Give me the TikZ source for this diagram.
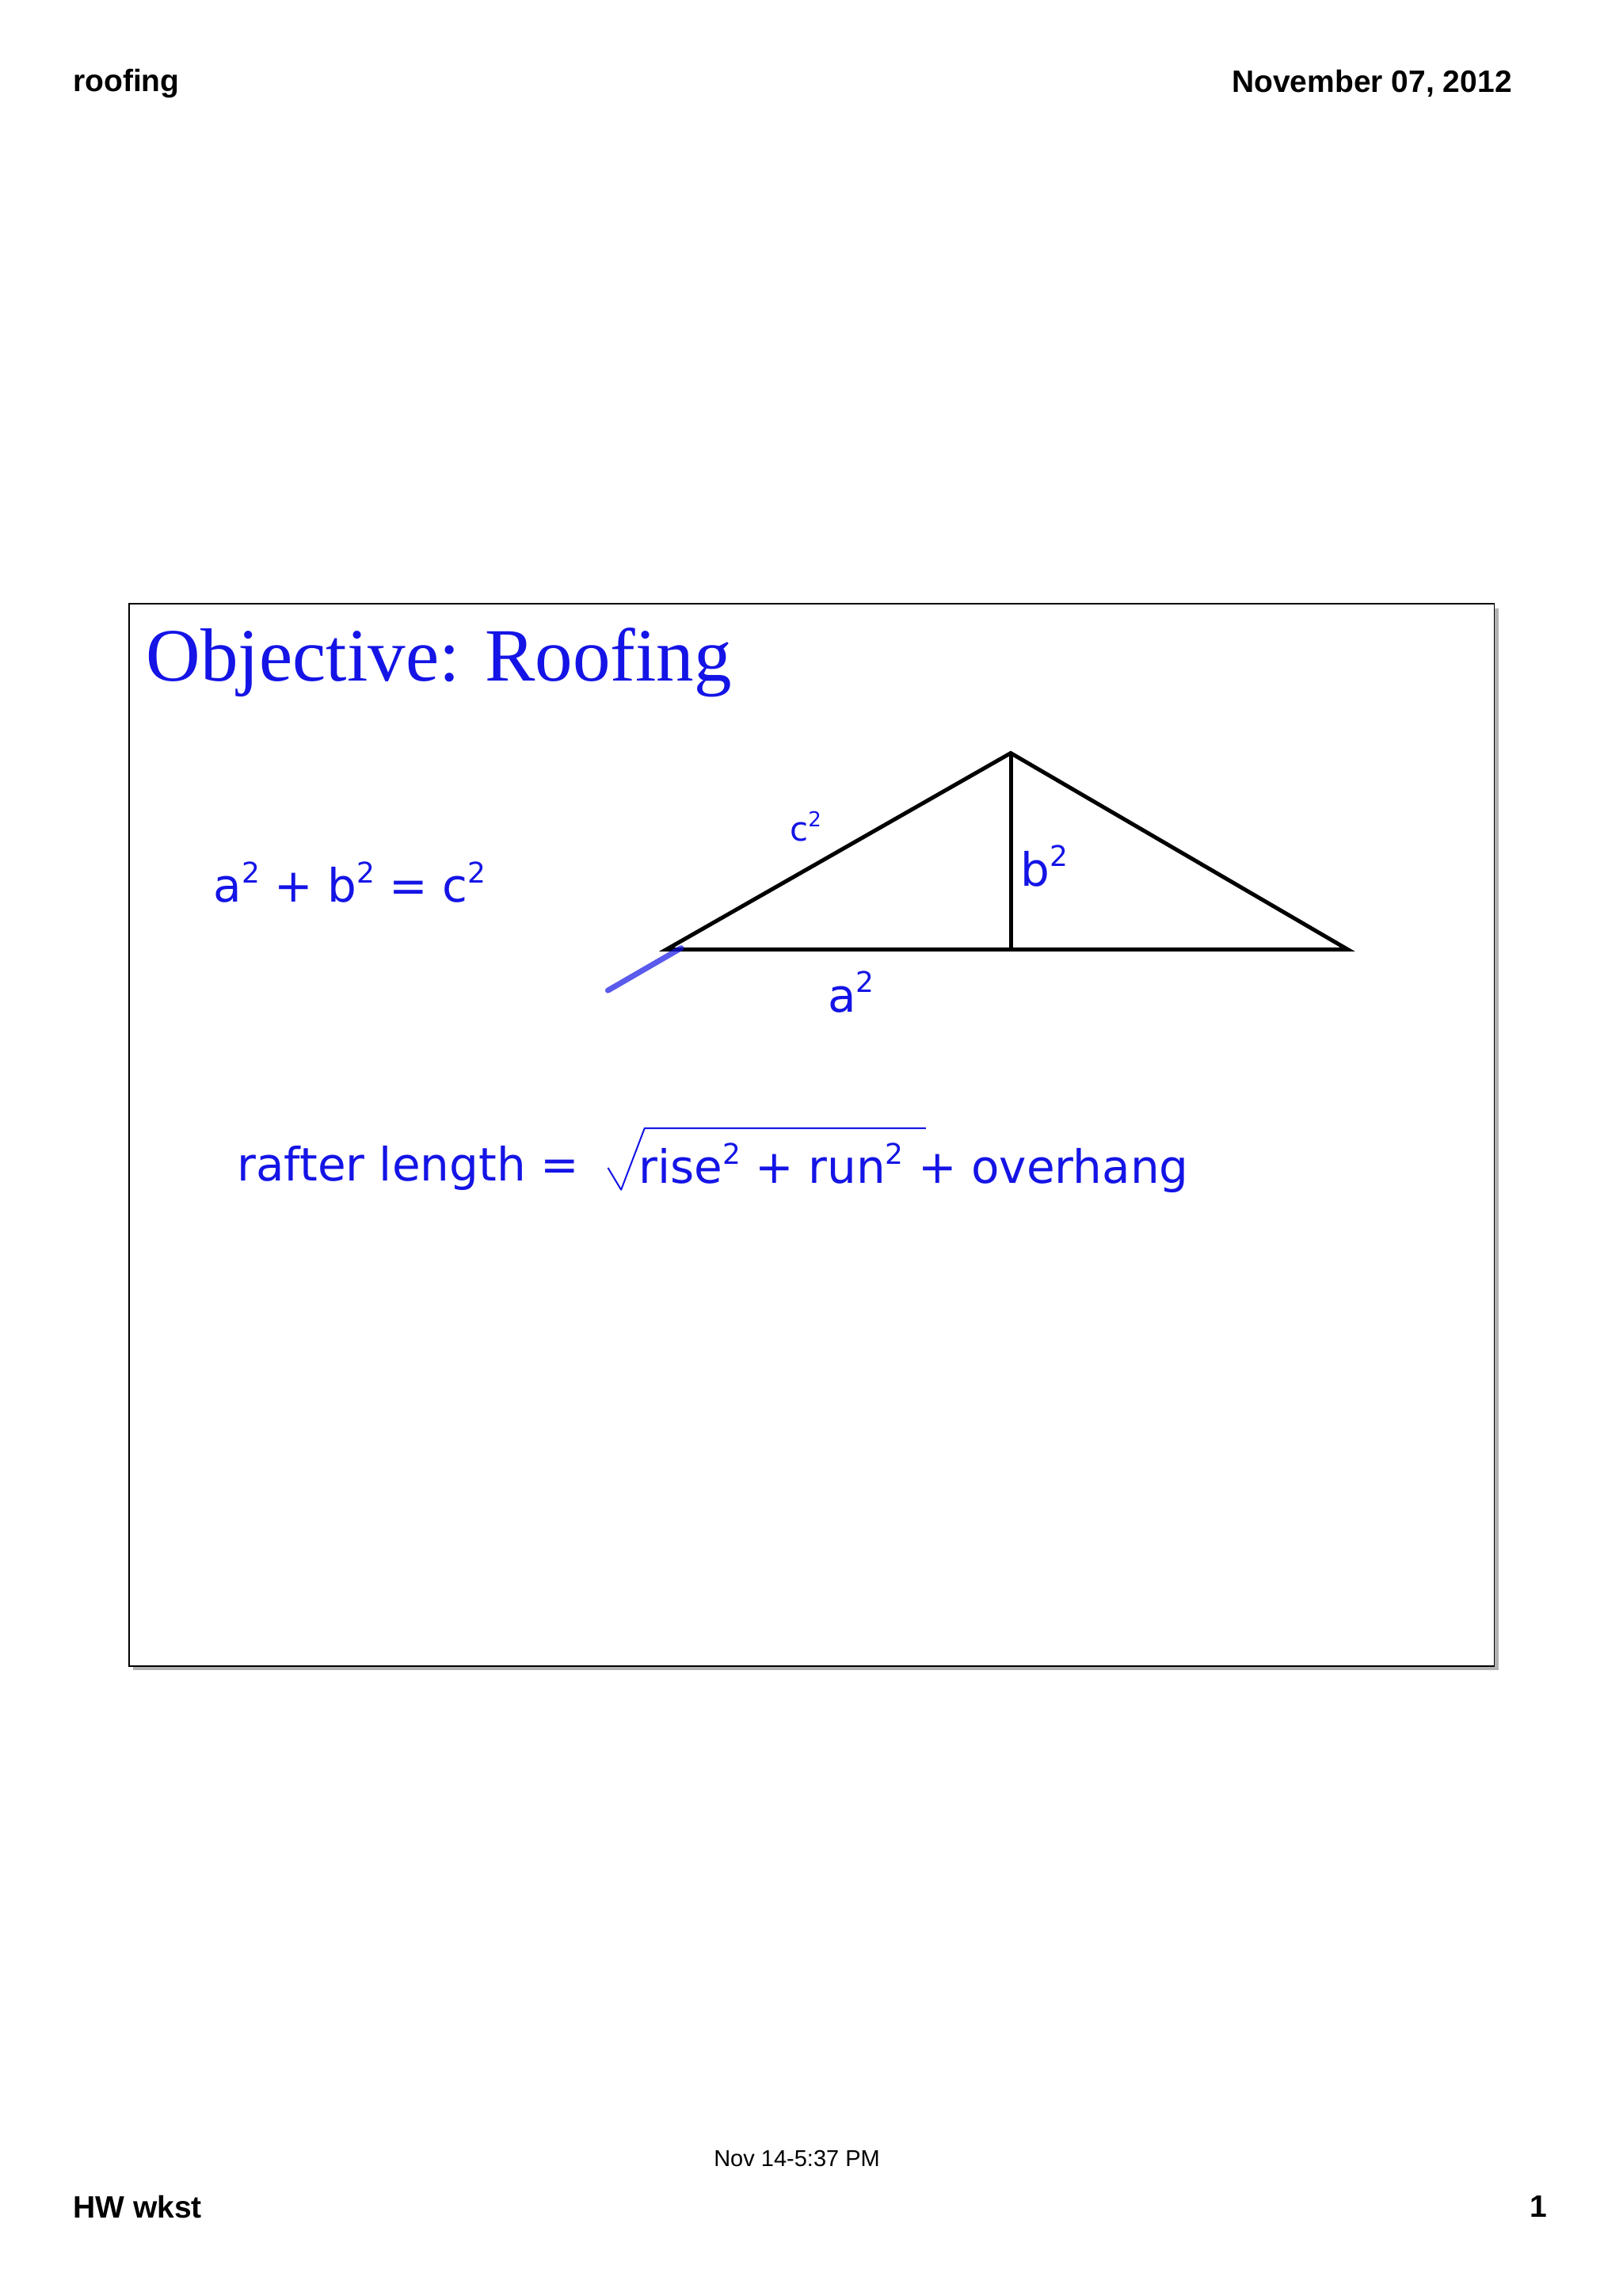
\documentclass[tikz,border=0pt]{standalone}
\usepackage{fontspec}
\setmainfont{Liberation Sans}
\newfontfamily\serifF{Liberation Serif}
\newfontfamily\handF{DejaVu Sans}
\definecolor{pen}{RGB}{20,20,230}
\newcommand{\sqd}{\raisebox{0.42em}{\scalebox{0.62}{2}}}
\begin{document}
\begin{tikzpicture}[x=1.8618pt,y=-1.8618pt,
  hdr/.style={font=\fontsize{39}{44}\selectfont\bfseries},
  hand/.style={text=pen,font=\handF\fontsize{58}{62}\selectfont},
  small/.style={text=pen,font=\handF\fontsize{42}{46}\selectfont},
  edge/.style={line width=5pt,line join=miter}]
\useasboundingbox (0,0) rectangle (1100,1556);
\fill[white] (0,0) rectangle (1100,1556);
\begin{scope}[scale=0.993]
\node[hdr,anchor=west] (h1) at (48,57) {roofing};
\node[hdr,anchor=east] (h2) at (1034,57) {November 07, 2012};
\node[hdr,anchor=west] (h3) at (48,1506) {HW wkst};
\node[hdr,anchor=east] (h4) at (1058,1506) {1};
\node[font=\fontsize{29}{32}\selectfont] (ts) at (544,1473) {Nov 14-5:37 PM};
\fill[gray!60] (91,415) rectangle (1023,1140);
\draw[line width=1.8pt,fill=white] (88,412) rectangle (1020,1137);
\node[anchor=west,text=pen,font=\serifF\fontsize{95}{100}\selectfont] (title) at (98,452) {Objective: Roofing};
\coordinate (L) at (455,648);
\coordinate (A) at (690,514);
\coordinate (R) at (920,648);
\coordinate (F) at (690,648);
\coordinate (O) at (415,676);
\draw[edge] (L) -- (A) -- (R) -- cycle;
\draw[edge] (A) -- (F);
\draw[pen,line width=7pt,opacity=0.7,line cap=round] (O) -- (465,647);
\node[hand,anchor=west] (eq) at (144,602) {a\sqd{} + b\sqd{} = c\sqd};
\node[small] (c) at (550,564) {c\sqd};
\node[hand] (b) at (713,591) {b\sqd};
\node[hand] (a) at (581,677) {a\sqd};
\node[hand,anchor=west] (rl) at (160,797) {rafter length =};
\node[hand,anchor=west] (rad) at (434,797) {rise\sqd{} + run\sqd{} + overhang};
\draw[pen,line width=2pt,line join=round] (415,797) -- (424,812) -- (440,770) -- (632,770);
\end{scope}
\end{tikzpicture}
\end{document}
